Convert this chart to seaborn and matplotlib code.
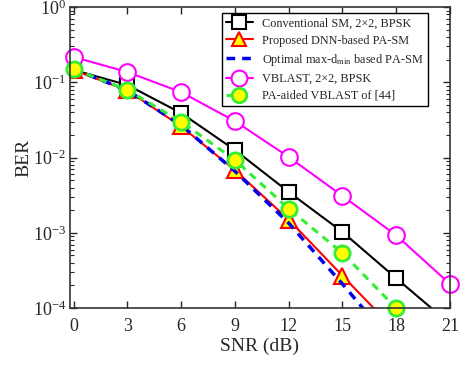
import numpy as np
import pandas as pd
import seaborn as sns
import matplotlib.pyplot as plt
from matplotlib.ticker import LogLocator, NullFormatter

snr = [0, 3, 6, 9, 12, 15, 18, 21]

ber_sm = [0.146, 0.092, 0.039, 0.0126, 0.0035, 0.00103, 0.00025, 0.000062]
ber_dnn = [0.145, 0.078, 0.026, 0.0068, 0.0015, 0.00027, 0.000049]
ber_opt = [0.15, 0.078, 0.027, 0.0066, 0.00135, 0.00021, 0.00003]
ber_vblast = [0.217, 0.137, 0.074, 0.0305, 0.0102, 0.0031, 0.00093, 0.00021]
ber_pa_vblast = [0.15, 0.079, 0.030, 0.0093, 0.0021, 0.00054, 0.0001]

labels = ['Conventional SM, 2\u00d72, BPSK',
          'Proposed DNN-based PA-SM',
          'Optimal max-d$_{\\mathregular{min}}$ based PA-SM',
          'VBLAST, 2\u00d72, BPSK',
          'PA-aided VBLAST of [44]']

sns.set_style('ticks')
plt.rcParams['font.family'] = ['Liberation Serif', 'DejaVu Serif']
plt.rcParams['mathtext.fontset'] = 'stix'

fig = plt.figure(figsize=(4.74, 3.73), dpi=100)
ax = fig.add_axes([0.148, 0.174, 0.801, 0.807])

sns.lineplot(x=snr, y=ber_sm, ax=ax, color='black', lw=1.5, marker='s',
             markersize=10, markerfacecolor='white', markeredgecolor='black',
             markeredgewidth=1.5, label=labels[0])
sns.lineplot(x=snr[:len(ber_dnn)], y=ber_dnn, ax=ax, color='red', lw=1.5, marker='^',
             markersize=11, markerfacecolor='yellow', markeredgecolor='red',
             markeredgewidth=1.5, label=labels[1])
sns.lineplot(x=snr[:len(ber_opt)], y=ber_opt, ax=ax, color='#0000ee', lw=2.5,
             dashes=(2.5, 2), label=labels[2])
sns.lineplot(x=snr, y=ber_vblast, ax=ax, color='magenta', lw=1.5, marker='o',
             markersize=12, markerfacecolor='white', markeredgecolor='magenta',
             markeredgewidth=1.5, label=labels[3], clip_on=False)
sns.lineplot(x=snr[:len(ber_pa_vblast)], y=ber_pa_vblast, ax=ax, color='#33ee33', lw=2.2,
             dashes=(2.5, 2), marker='o', markersize=11, markerfacecolor='yellow',
             markeredgecolor='#33ee33', markeredgewidth=2, label=labels[4], clip_on=False)

ax.set_yscale('log')
ax.set_xlim(-0.2, 21)
ax.set_ylim(1e-4, 1)
ax.set_xticks(snr)
ax.set_yticks([1, 1e-1, 1e-2, 1e-3, 1e-4])
ax.yaxis.set_minor_locator(LogLocator(base=10, subs=np.arange(2, 10), numticks=20))
ax.yaxis.set_minor_formatter(NullFormatter())
ax.tick_params(which='both', direction='in', top=True, right=True, labelsize=13)
ax.tick_params(axis='y', pad=3)
ax.tick_params(axis='x', pad=7)
ax.tick_params(which='major', length=5, width=1)
ax.tick_params(which='minor', length=3, width=0.8)
for sp in ax.spines.values():
    sp.set_linewidth(1.2)
    sp.set_color('#333333')
ax.set_xlabel('SNR (dB)', fontsize=14, labelpad=2)
ax.set_ylabel('BER', fontsize=14, labelpad=0)

leg = ax.legend(loc='upper right', bbox_to_anchor=(0.942, 0.98), fontsize=8.8,
                frameon=True, fancybox=False, edgecolor='black', framealpha=1,
                borderaxespad=0, handlelength=2.2, labelspacing=0.42, borderpad=0.35,
                handletextpad=0.75, markerscale=0.95)
leg.get_frame().set_linewidth(1.0)

fig.savefig('out.png', dpi=100)
